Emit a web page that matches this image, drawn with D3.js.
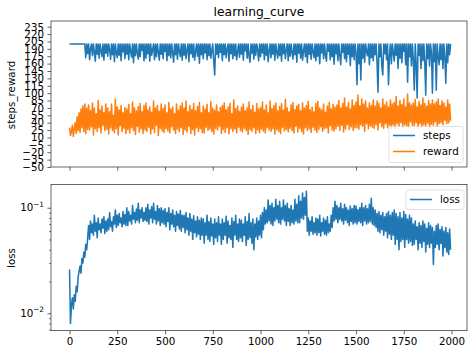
<!DOCTYPE html>
<html><head><meta charset="utf-8">
<script src="https://cdn.jsdelivr.net/npm/d3@7"></script>
<style>body{margin:0;background:#fff}svg{font-family:"DejaVu Sans",sans-serif}</style>
</head><body>
<svg id="c" width="474" height="352"></svg>
<script>
const episodeStep = 5;
const xTicks = [0,250,500,750,1000,1250,1500,1750,2000];
const topYTicks = [235,220,205,190,175,160,145,130,115,100,85,70,55,40,25,10,-5,-20,-35,-50];
const steps = [
200,200,200,200,200,200,200,200,200,200,200,200,200,200,200,200,200,172,200,180,
200,168,190,200,176,200,183,165,200,179,200,171,200,186,174,200,167,200,181,200,
175,200,188,169,200,178,200,164,200,182,172,200,177,200,166,200,184,200,170,200,
179,200,168,200,185,173,200,162,200,176,200,181,169,200,174,200,187,200,166,200,
171,200,180,200,165,200,177,189,200,168,200,174,200,183,167,200,179,200,170,200,
185,200,166,200,176,200,172,200,181,163,200,178,200,169,200,186,174,200,167,200,
177,200,170,188,200,164,200,180,200,173,200,167,185,200,175,200,161,200,178,200,
170,200,182,200,168,200,176,200,171,187,200,164,137,200,179,200,172,200,183,200,
166,200,178,200,172,189,200,165,200,180,200,170,200,176,200,168,184,200,173,200,
179,200,167,200,186,200,171,200,175,163,200,181,200,169,200,177,200,188,166,200,
174,200,182,200,168,200,177,200,164,185,200,172,200,179,200,167,200,183,171,200,
176,200,165,200,180,200,170,188,200,166,200,175,200,182,169,200,178,200,163,200,
181,200,171,200,167,186,200,174,200,162,200,179,200,169,200,184,172,200,166,200,
175,200,160,200,182,200,170,200,177,165,200,185,200,168,200,174,200,159,200,180,
200,166,200,176,158,200,183,200,170,200,164,200,179,200,156,200,174,200,168,200,
182,117,200,160,200,127,200,171,200,163,200,185,176,200,158,200,172,200,166,200,
178,200,162,102,200,174,200,155,137,200,180,200,168,200,117,175,200,160,200,183,
165,200,177,200,150,200,171,200,162,200,185,200,158,200,122,200,174,200,155,200,
168,106,200,160,90,200,177,200,150,200,166,200,162,96,200,170,200,155,200,181,
100,200,164,200,106,200,175,158,200,168,200,150,200,172,120,200,162,200,178,200];
const reward = [
30,14,22,35,12,28,40,18,52,24,60,20,68,30,74,22,78,18,70,26,
76,25,64,32,80,15,70,28,58,22,85,30,66,19,74,35,60,24,78,27,
70,17,62,30,78,24,55,20,88,28,72,15,66,34,75,22,60,29,71,18,
68,26,77,19,58,30,82,24,70,16,64,33,73,21,79,28,62,18,75,25,
80,22,66,31,72,17,61,27,84,20,70,35,75,14,63,29,78,23,69,20,
76,28,60,23,81,19,68,32,72,25,58,18,78,27,65,22,74,30,80,16,
70,25,84,21,62,33,75,18,67,26,79,15,64,30,73,22,81,28,60,20,
74,19,68,31,77,24,60,27,83,22,70,17,65,29,76,25,62,33,71,18,
75,26,80,20,66,30,72,17,79,28,58,22,86,27,69,19,74,31,63,24,
72,21,78,29,64,24,70,16,82,26,67,22,75,30,61,18,79,25,68,20,
71,27,82,23,66,19,76,30,60,25,84,22,69,28,75,17,80,26,64,22,
73,18,79,31,65,23,87,26,70,21,62,29,76,24,81,19,67,33,74,21,
77,29,64,22,80,17,70,30,75,24,83,28,66,20,72,31,62,25,79,20,
83,26,70,32,66,22,78,28,61,30,74,19,81,34,68,25,77,23,72,28,
76,33,85,24,70,35,79,21,90,28,72,36,81,26,68,32,86,24,75,30,
82,30,96,27,74,36,88,33,78,22,84,38,70,28,80,34,75,31,86,29,
74,36,84,25,79,40,70,32,88,29,76,38,82,30,72,35,86,27,78,36,
81,27,93,38,74,33,85,40,77,30,88,36,72,34,98,30,80,42,76,35,
80,34,87,40,72,28,83,38,76,31,90,36,79,33,74,39,85,30,78,37,
86,35,78,42,82,33,88,38,75,40,84,36,80,45,72,38,86,40,78,44];
const loss = [
0.026,0.008,0.012,0.014,0.011,0.015,0.013,0.018,0.016,0.022,0.025,0.028,0.024,0.033,0.03,0.038,0.034,0.045,0.04,0.052,
0.068,0.05,0.075,0.058,0.07,0.055,0.085,0.06,0.072,0.052,0.08,0.062,0.07,0.058,0.078,0.064,0.082,0.057,0.075,0.06,
0.078,0.062,0.09,0.066,0.074,0.06,0.082,0.07,0.095,0.065,0.085,0.068,0.088,0.072,0.08,0.066,0.092,0.07,0.086,0.068,
0.1,0.068,0.092,0.075,0.085,0.07,0.105,0.078,0.09,0.072,0.097,0.076,0.11,0.072,0.095,0.08,0.1,0.074,0.09,0.076,
0.1,0.074,0.108,0.07,0.095,0.08,0.102,0.072,0.11,0.078,0.092,0.07,0.105,0.075,0.098,0.068,0.1,0.072,0.094,0.07,
0.098,0.066,0.09,0.074,0.1,0.062,0.088,0.07,0.095,0.066,0.085,0.06,0.092,0.068,0.087,0.063,0.094,0.06,0.085,0.065,
0.085,0.058,0.09,0.062,0.08,0.055,0.088,0.06,0.078,0.05,0.084,0.058,0.075,0.053,0.082,0.056,0.076,0.05,0.08,0.055,
0.078,0.046,0.072,0.055,0.085,0.05,0.074,0.048,0.08,0.054,0.07,0.045,0.078,0.052,0.072,0.048,0.082,0.055,0.07,0.045,
0.078,0.05,0.072,0.055,0.083,0.046,0.075,0.052,0.068,0.05,0.08,0.042,0.074,0.055,0.085,0.05,0.07,0.048,0.078,0.052,
0.076,0.048,0.07,0.055,0.082,0.044,0.074,0.05,0.088,0.052,0.072,0.046,0.078,0.04,0.07,0.053,0.08,0.05,0.075,0.055,
0.085,0.052,0.09,0.062,0.1,0.07,0.095,0.072,0.118,0.075,0.105,0.07,0.11,0.068,0.1,0.075,0.12,0.078,0.105,0.072,
0.115,0.07,0.1,0.078,0.118,0.075,0.105,0.068,0.11,0.074,0.098,0.068,0.105,0.072,0.095,0.07,0.12,0.075,0.108,0.072,
0.13,0.072,0.115,0.08,0.138,0.078,0.125,0.085,0.143,0.06,0.08,0.055,0.075,0.06,0.082,0.056,0.072,0.058,0.08,0.055,
0.078,0.058,0.085,0.054,0.072,0.06,0.08,0.056,0.076,0.055,0.082,0.058,0.07,0.06,0.085,0.065,0.1,0.075,0.115,0.078,
0.105,0.072,0.1,0.078,0.11,0.075,0.098,0.07,0.108,0.076,0.1,0.072,0.095,0.068,0.104,0.074,0.098,0.07,0.105,0.072,
0.104,0.07,0.096,0.074,0.1,0.072,0.11,0.068,0.1,0.075,0.105,0.07,0.098,0.072,0.108,0.074,0.123,0.07,0.1,0.068,
0.095,0.065,0.088,0.06,0.092,0.058,0.085,0.062,0.09,0.055,0.082,0.06,0.088,0.052,0.092,0.056,0.085,0.05,0.09,0.055,
0.095,0.045,0.088,0.05,0.082,0.04,0.09,0.048,0.08,0.05,0.092,0.042,0.086,0.05,0.078,0.046,0.085,0.048,0.08,0.044,
0.07,0.045,0.075,0.05,0.066,0.04,0.072,0.046,0.068,0.042,0.075,0.048,0.07,0.038,0.064,0.045,0.072,0.042,0.068,0.046,
0.065,0.029,0.06,0.042,0.068,0.045,0.07,0.04,0.062,0.046,0.066,0.035,0.06,0.042,0.065,0.038,0.058,0.036,0.063,0.04];

const svg = d3.select("#c");
const L = 51, R = 467;
const top1 = 21, bot1 = 167, top2 = 184.5, bot2 = 330.7;
const x = d3.scaleLinear().domain([-97, 2081]).range([L, R]);
const y1 = d3.scaleLinear().domain([-50, 246.6]).range([bot1, top1]);
const y2 = d3.scaleLog().domain([0.00684, 0.166]).range([bot2, top2]);
const blue = "#1f77b4", orange = "#ff7f0e";
const fs = 10.3;

function line(data, yS, color, g) {
  g.append("path").datum(data)
   .attr("fill","none").attr("stroke",color).attr("stroke-width",1.55).attr("stroke-linejoin","round")
   .attr("d", d3.line().x((d,i)=>x(i*episodeStep)).y(d=>yS(d)));
}
svg.append("text").attr("x",(L+R)/2).attr("y",15.5).attr("text-anchor","middle").attr("font-size",12.3).text("learning_curve");

// ---- top axes
const g1 = svg.append("g");
g1.append("clipPath").attr("id","cp1").append("rect").attr("x",L).attr("y",top1).attr("width",R-L).attr("height",bot1-top1);
const d1 = g1.append("g").attr("clip-path","url(#cp1)");
line(steps, y1, blue, d1);
line(reward, y1, orange, d1);
g1.append("g").attr("transform",`translate(${L},0)`)
  .call(d3.axisLeft(y1).tickValues(topYTicks).tickSize(3.6).tickPadding(3.4))
  .call(a=>{a.select(".domain").remove();a.selectAll("text").attr("font-size",fs).attr("fill","#000").attr("font-family","DejaVu Sans");a.selectAll("line").attr("stroke","#000").attr("stroke-width",0.6);});
g1.append("g").attr("transform",`translate(0,${bot1})`)
  .call(d3.axisBottom(x).tickValues(xTicks).tickSize(3.6).tickFormat(""))
  .call(a=>{a.select(".domain").remove();a.selectAll("line").attr("stroke","#000").attr("stroke-width",0.6);});
g1.append("rect").attr("x",L).attr("y",top1).attr("width",R-L).attr("height",bot1-top1).attr("fill","none").attr("stroke","#000").attr("stroke-width",0.6);
svg.append("text").attr("transform",`translate(15,95) rotate(-90)`).attr("text-anchor","middle").attr("font-size",fs).text("steps_reward");
const lg1 = svg.append("g");
lg1.append("rect").attr("x",389).attr("y",126.5).attr("width",74).attr("height",36).attr("rx",2).attr("fill","#fff").attr("fill-opacity",0.8).attr("stroke","#ccc").attr("stroke-width",0.6);
[["steps",blue,135.5],["reward",orange,151.5]].forEach(([t,c,yy])=>{
  lg1.append("line").attr("x1",393).attr("x2",415).attr("y1",yy).attr("y2",yy).attr("stroke",c).attr("stroke-width",1.55);
  lg1.append("text").attr("x",423).attr("y",yy+3.7).attr("font-size",fs).text(t);
});

// ---- bottom axes
const g2 = svg.append("g");
g2.append("clipPath").attr("id","cp2").append("rect").attr("x",L).attr("y",top2).attr("width",R-L).attr("height",bot2-top2);
const d2 = g2.append("g").attr("clip-path","url(#cp2)");
line(loss, y2, blue, d2);
g2.append("g").attr("transform",`translate(0,${bot2})`)
  .call(d3.axisBottom(x).tickValues(xTicks).tickSize(3.6).tickPadding(3.4).tickFormat(d3.format("d")))
  .call(a=>{a.select(".domain").remove();a.selectAll("text").attr("font-size",fs).attr("fill","#000").attr("font-family","DejaVu Sans");a.selectAll("line").attr("stroke","#000").attr("stroke-width",0.6);});
const minor = [0.007,0.008,0.009,0.02,0.03,0.04,0.05,0.06,0.07,0.08,0.09];
g2.append("g").attr("transform",`translate(${L},0)`)
  .call(d3.axisLeft(y2).tickValues(minor).tickSize(2).tickFormat(""))
  .call(a=>{a.select(".domain").remove();a.selectAll("line").attr("stroke","#000").attr("stroke-width",0.5);});
const major = [0.01, 0.1];
g2.append("g").attr("transform",`translate(${L},0)`)
  .call(d3.axisLeft(y2).tickValues(major).tickSize(3.6).tickFormat(""))
  .call(a=>{a.select(".domain").remove();a.selectAll("line").attr("stroke","#000").attr("stroke-width",0.6);});
major.forEach(v=>{
  const t = svg.append("text").attr("x",L-7).attr("y",y2(v)+3.5).attr("text-anchor","end").attr("font-size",fs);
  t.append("tspan").text("10");
  t.append("tspan").attr("dy",-4.5).attr("font-size",7.3).text("\u2212" + Math.round(-Math.log10(v)));
});
g2.append("rect").attr("x",L).attr("y",top2).attr("width",R-L).attr("height",bot2-top2).attr("fill","none").attr("stroke","#000").attr("stroke-width",0.6);
svg.append("text").attr("transform",`translate(15,258) rotate(-90)`).attr("text-anchor","middle").attr("font-size",fs).text("loss");
const lg2 = svg.append("g");
lg2.append("rect").attr("x",406).attr("y",190).attr("width",58).attr("height",19.5).attr("rx",2).attr("fill","#fff").attr("fill-opacity",0.8).attr("stroke","#ccc").attr("stroke-width",0.6);
lg2.append("line").attr("x1",410).attr("x2",432).attr("y1",199.5).attr("y2",199.5).attr("stroke",blue).attr("stroke-width",1.55);
lg2.append("text").attr("x",440).attr("y",203.2).attr("font-size",fs).text("loss");
</script>
</body></html>
